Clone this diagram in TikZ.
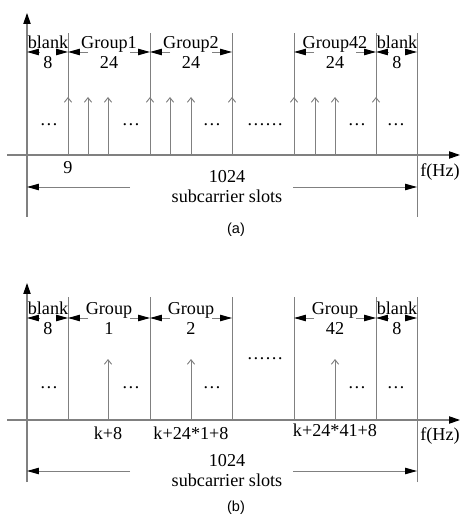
\documentclass[tikz,border=0pt]{standalone}
\usepackage{fontspec}
\setmainfont{Liberation Serif}
\newfontfamily\capfont{Liberation Sans}
\usetikzlibrary{arrows.meta,calc}
\tikzset{
  ax/.style={draw=gray,line width=.6pt,-{Triangle[length=6pt,width=4pt,color=black]}},
  sep/.style={draw=gray,line width=.5pt},
  tone/.style={draw=gray,line width=.5pt,-{Straight Barb[length=2.5pt,width=4pt]}},
  dim/.style={draw=gray,line width=.5pt,-{Triangle[length=6.5pt,width=3.5pt,color=black]}},
  lbl/.style={font=\fontsize{10}{11}\selectfont,align=center,inner sep=0pt},
  captxt/.style={font=\capfont\fontsize{8}{9}\selectfont,inner sep=0pt}
}
\begin{document}
\begin{tikzpicture}[x=.55pt,y=-.55pt]
\useasboundingbox(0,0)rectangle(474,529);
% (a)
\coordinate(a0)at(27,155);\coordinate(a1)at(68,155);\coordinate(a2)at(150,155);
\coordinate(a3)at(232,155);\coordinate(a4)at(294,155);\coordinate(a5)at(376,155);
\coordinate(a6)at(417,155);
\draw[ax](27,217)--(27,13);
\draw[ax](7,155)--(460,155);
\draw[sep](a1)--(68,33);\draw[sep](a2)--(150,33);\draw[sep](a3)--(232,33);
\draw[sep](a4)--(294,33);\draw[sep](a5)--(376,33);\draw[sep](417,217)--(417,33);
\draw[tone](a1)--(68,97);\draw[tone](88,155)--(88,97);\draw[tone](108,155)--(108,97);
\draw[tone](a2)--(150,97);\draw[tone](170,155)--(170,97);\draw[tone](191,155)--(191,97);
\draw[tone](a3)--(232,97);\draw[tone](a4)--(294,97);\draw[tone](315,155)--(315,97);
\draw[tone](335,155)--(335,97);\draw[tone](a5)--(376,97);
\node[lbl](bA1)at(48,52){blank\\8};
\draw[dim]($(bA1)+(-9,0)$)--(bA1-|a0);\draw[dim]($(bA1)+(9,0)$)--(bA1-|a1);
\node[lbl](gA1)at(109,52){Group1\\24};
\draw[dim]($(gA1)+(-21,0)$)--(gA1-|a1);\draw[dim]($(gA1)+(21,0)$)--(gA1-|a2);
\node[lbl](gA2)at(191,52){Group2\\24};
\draw[dim]($(gA2)+(-21,0)$)--(gA2-|a2);\draw[dim]($(gA2)+(21,0)$)--(gA2-|a3);
\node[lbl](gA42)at(335,52){Group42\\24};
\draw[dim]($(gA42)+(-21,0)$)--(gA42-|a4);\draw[dim]($(gA42)+(21,0)$)--(gA42-|a5);
\node[lbl](bA2)at(397,52){blank\\8};
\draw[dim]($(bA2)+(-9,0)$)--(bA2-|a5);\draw[dim]($(bA2)+(9,0)$)--(bA2-|a6);
\node[lbl](dA1)at(49,125){\dots};\node[lbl](dA2)at(131,125){\dots};
\node[lbl](dA3)at(212,125){\dots};\node[lbl](dA4)at(265,125){\dots\dots};
\node[lbl](dA5)at(357,125){\dots};\node[lbl](dA6)at(396,125){\dots};
\node[lbl](nine)at(68,168){9};
\node[lbl](fA)at(440,172){f(Hz)};
\node[lbl](sA)at(227,187){1024\\subcarrier slots};
\draw[dim]($(sA)+(-97,0)$)--(sA-|a0);\draw[dim]($(sA)+(66,0)$)--(sA-|a6);
\node[captxt](capA)at(236,230){(a)};
% (b)
\coordinate(b0)at(27,420);\coordinate(b1)at(68,420);\coordinate(b2)at(150,420);
\coordinate(b3)at(232,420);\coordinate(b4)at(294,420);\coordinate(b5)at(376,420);
\coordinate(b6)at(417,420);
\draw[ax](27,482)--(27,283);
\draw[ax](7,420)--(460,420);
\draw[sep](b1)--(68,297);\draw[sep](b2)--(150,297);\draw[sep](b3)--(232,297);
\draw[sep](b4)--(294,297);\draw[sep](b5)--(376,297);\draw[sep](417,482)--(417,297);
\draw[tone](108,420)--(108,359);\draw[tone](191,420)--(191,359);\draw[tone](335,420)--(335,359);
\node[lbl](bB1)at(48,318){blank\\8};
\draw[dim]($(bB1)+(-9,0)$)--(bB1-|b0);\draw[dim]($(bB1)+(9,0)$)--(bB1-|b1);
\node[lbl](gB1)at(109,318){Group\\1};
\draw[dim]($(gB1)+(-21,0)$)--(gB1-|b1);\draw[dim]($(gB1)+(21,0)$)--(gB1-|b2);
\node[lbl](gB2)at(191,318){Group\\2};
\draw[dim]($(gB2)+(-21,0)$)--(gB2-|b2);\draw[dim]($(gB2)+(21,0)$)--(gB2-|b3);
\node[lbl](gB42)at(335,318){Group\\42};
\draw[dim]($(gB42)+(-21,0)$)--(gB42-|b4);\draw[dim]($(gB42)+(21,0)$)--(gB42-|b5);
\node[lbl](bB2)at(397,318){blank\\8};
\draw[dim]($(bB2)+(-9,0)$)--(bB2-|b5);\draw[dim]($(bB2)+(9,0)$)--(bB2-|b6);
\node[lbl](dB1)at(49,388){\dots};\node[lbl](dB2)at(131,388){\dots};
\node[lbl](dB3)at(212,388){\dots};\node[lbl](dB4)at(265,359){\dots\dots};
\node[lbl](dB5)at(357,388){\dots};\node[lbl](dB6)at(396,388){\dots};
\node[lbl](k1)at(108,433){k+8};
\node[lbl](k2)at(191,433){k+24*1+8};
\node[lbl](k42)at(335,430){k+24*41+8};
\node[lbl](fB)at(440,436){f(Hz)};
\node[lbl](sB)at(227,471){1024\\subcarrier slots};
\draw[dim]($(sB)+(-97,0)$)--(sB-|b0);\draw[dim]($(sB)+(66,0)$)--(sB-|b6);
\node[captxt](capB)at(236,508){(b)};
\end{tikzpicture}
\end{document}
